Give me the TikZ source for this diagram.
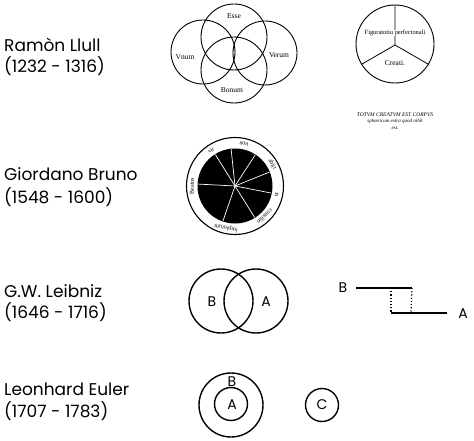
\documentclass[tikz,border=0pt]{standalone}
\usepackage{fontspec}
\usetikzlibrary{calc}
\setmainfont{Poppins}
\newfontfamily\oldf{Liberation Serif}
\begin{document}
\begin{tikzpicture}[x=1pt,y=1pt,
  person/.style={anchor=base west, inner sep=0pt, font=\fontsize{17}{17}\selectfont},
  lab/.style={inner sep=0pt, font=\fontsize{14}{14}\selectfont},
  thin circ/.style={draw, line width=0.9pt},
  circ/.style={draw, line width=1.4pt},
  old/.style={inner sep=0pt, font=\oldf\fontsize{7.5}{7.5}\selectfont},
  ring/.style={inner sep=0pt, font=\oldf\fontsize{6}{6}\selectfont}]
\useasboundingbox (0,0) rectangle (474,440);
% names
\node[person] (n1a) at (4,388) {Ramòn Llull};
\node[person] (n1b) at (4,367) {(1232 - 1316)};
\node[person] (n2a) at (4,260) {Giordano Bruno};
\node[person] (n2b) at (4,237) {(1548 - 1600)};
\node[person] (n3a) at (4,143) {G.W. Leibniz};
\node[person] (n3b) at (4,122) {(1646 - 1716)};
\node[person] (n4a) at (4,45) {Leonhard Euler};
\node[person] (n4b) at (4,23) {(1707 - 1783)};
% Llull four circles
\draw[thin circ] (234,403) circle (33);
\draw[thin circ] (234,370) circle (33);
\draw[thin circ] (203,388) circle (32);
\draw[thin circ] (265,387) circle (32);
\node[old] (esse) at (234,424) {Esse};
\node[old] (vnum) at (185,383) {Vnum};
\node[old] (verum) at (279,385) {Verum};
\node[old] (bonum) at (232,350) {Bonum};
% Llull second circle
\coordinate (lc) at (395,395);
\draw[thin circ] (395,396) circle (39);
\draw[line width=0.8pt] (lc) -- ++(90:39.5) (lc) -- ++(210:38.5) (lc) -- ++(330:38.5);
\node[old, fill=white, inner sep=0.5pt, font=\oldf\fontsize{6.4}{6.4}\selectfont] (fig) at (395,407) {Figuratotiu perfectonali};
\node[old] (creati) at (395,377) {Creati.};
\node[old, font=\oldf\itshape\fontsize{5.5}{5.5}\selectfont] (t1) at (395,325) {TOTVM CREATVM EST CORPVS};
\node[old, font=\oldf\itshape\fontsize{5}{5}\selectfont] (t2) at (395,318.5) {sphæricum extra quod nihil};
\node[old, font=\oldf\itshape\fontsize{5}{5}\selectfont] (t3) at (395,312) {est.};
% Bruno
\coordinate (bc) at (235,254);
\draw[circ, line width=1.1pt] (bc) circle (48.5);
\fill (bc) circle (37.5);
\foreach \a in {122,96,57,22,-11,-58,-109,177}
  \draw[white, line width=0.7pt] (bc) -- ++(\a:37);
\foreach \a/\t in {180/Beatus,124/vir,78/non,30/abijt,-12/in,-46/consilio,-102/impiorum}
  \node[ring, rotate=\a-90] at ($(bc)+(\a:43)$) {\t};
% Leibniz
\draw[circ] (221,139) circle (32);
\draw[circ] (256,139) circle (32);
\node[lab] (lb) at (212,138) {B};
\node[lab] (la) at (266,138) {A};
\node[lab] (b2) at (343,152) {B};
\node[lab] (a2) at (463,126) {A};
\coordinate (p1) at (356,152);
\coordinate (p2) at (412,152);
\coordinate (p3) at (391,127);
\coordinate (p4) at (447,127);
\draw[line width=1.2pt] (p1) -- (p2);
\draw[line width=1.2pt] (p3) -- (p4);
\draw[line width=1.2pt, dotted] (391,152) -- (p3);
\draw[line width=1.2pt, dotted] (p2) -- (411,127);
% Euler
\draw[circ] (231,35) circle (32);
\draw[circ] (231,36) circle (16.5);
\node[lab] (eb) at (232,58) {B};
\node[lab] (ea) at (232,35) {A};
\draw[circ] (322,35) circle (16.5);
\node[lab] (ec) at (322,35) {C};
\end{tikzpicture}
\end{document}
